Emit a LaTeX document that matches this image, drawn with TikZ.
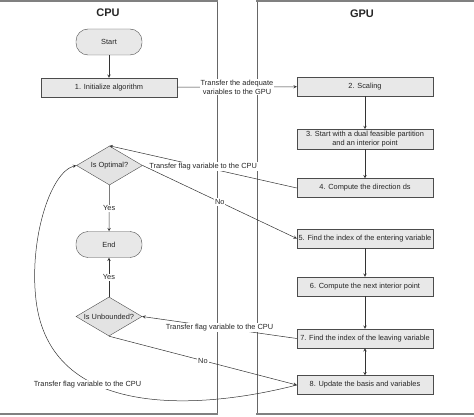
\documentclass[tikz,border=0pt]{standalone}
\usepackage{fontspec}
\setmainfont{Liberation Sans}
\usetikzlibrary{shapes.geometric}

\begin{document}
\begin{tikzpicture}[>=stealth, x=1pt, y=-1pt,                 % pixel-like units, y runs downwards
    font=\fontsize{7.4}{8.8}\selectfont, text=black!85,
    proc/.style={draw=black!70, fill=gray!18, minimum width=136pt, minimum height=19pt, inner sep=1pt, align=center},
    term/.style={draw=black!70, fill=gray!18, rounded corners=12pt, minimum width=66pt, minimum height=26pt},
    decide/.style={diamond, aspect=1.7, draw=black!70, fill=gray!22, minimum width=66pt, minimum height=39pt, inner sep=0pt},
    flow/.style={->, draw=black!80, line width=0.5pt},
    lbl/.style={fill=white, inner sep=1pt, align=center},
    lane/.style={black!60, line width=0.8pt},
    laneedge/.style={gray, line width=2.5pt}]
    \useasboundingbox (0,0) rectangle (474,417);
    % the two lanes
    \draw[lane] (217,1) -- (217,414);
    \draw[laneedge] (-2,1) -- (218,1);
    \draw[laneedge] (-2,414) -- (218,414);
    \draw[lane] (257,1) -- (257,414);
    \draw[laneedge] (256,1) -- (480,1);
    \draw[laneedge] (256,414) -- (480,414);
    \node[font=\fontsize{11}{13}\selectfont\bfseries] (cpu) at (108,13) {CPU};
    \node[font=\fontsize{11}{13}\selectfont\bfseries] (gpu) at (362,14) {GPU};

    % CPU side
    \node[term] (start) at (109,42) {Start};
    \node[proc] (init) at (109,87.5) {1. Initialize algorithm};
    \node[decide] (opt) at (109.5,165.5) {Is Optimal?};
    \node[term] (end) at (109,244.5) {End};
    \node[decide] (unb) at (109,316.5) {Is Unbounded?};

    % GPU side
    \node[proc] (scal) at (365,86.5) {2. Scaling};
    \node[proc, minimum height=20pt] (part) at (365,139.3) {3. Start with a dual feasible partition\\and an interior point};
    \node[proc] (dir) at (365,188) {4. Compute the direction ds};
    \node[proc] (enter) at (365,238.5) {5. Find the index of the entering variable};
    \node[proc] (next) at (365,286.5) {6. Compute the next interior point};
    \node[proc] (leave) at (365,338.5) {7. Find the index of the leaving variable};
    \node[proc] (upd) at (365,385) {8. Update the basis and variables};

    \draw[flow] (start) -- (init);
    \draw[flow] (init) -- node[lbl] {Transfer the adequate\\variables to the GPU} (scal);
    \draw[flow] (scal) -- (part);
    \draw[flow] (part) -- (dir);
    \draw[flow] (dir.west) -- node[lbl] {Transfer flag variable to the CPU} (opt.north);
    \draw[flow] (opt.east) -- node[lbl] {No} (enter.west);
    \draw[flow] (opt) -- node[lbl] {Yes} (end);
    \draw[flow] (unb) -- node[lbl] {Yes} (end);
    \draw[flow] (enter) -- (next);
    \draw[flow] (next) -- (leave);
    \draw[flow, <->] (leave) -- (upd);
    \draw[flow] (leave.west) -- node[lbl] {Transfer flag variable to the CPU} (unb.east);
    \draw[flow] (unb.south) -- node[lbl] {No} (upd.west);
%    \draw[flow] (upd.west) to[out=190, in=200] (opt.west);
    \draw[flow] (upd.west) .. controls (200,410) and (50,420) .. (36,300)
        node[lbl, pos=0.67, yshift=-4pt] {Transfer flag variable to the CPU}
        .. controls (29,240) and (50,172) .. (opt.west);
\end{tikzpicture}
\end{document}
